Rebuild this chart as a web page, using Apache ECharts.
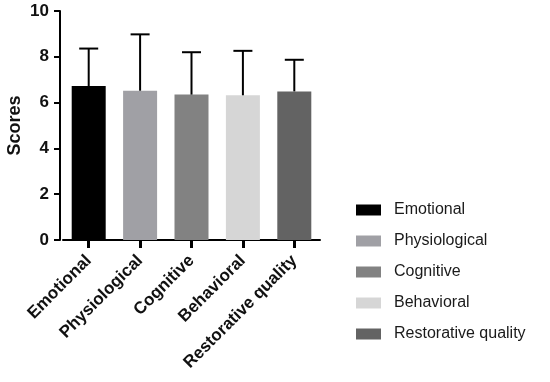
<!DOCTYPE html>
<html>
<head>
<meta charset="utf-8">
<script src="https://cdn.jsdelivr.net/npm/echarts@6/dist/echarts.min.js"></script>
<style>html,body{margin:0;padding:0;background:#fff}#c{width:550px;height:382px}</style>
</head>
<body>
<div id="c"></div>
<script>
const categories = ['Emotional', 'Physiological', 'Cognitive', 'Behavioral', 'Restorative quality'];
const means = [6.72, 6.52, 6.35, 6.32, 6.49];
const upperErrors = [8.36, 8.98, 8.2, 8.26, 7.87];
const colors = ['#000000', '#a0a0a5', '#828282', '#d6d6d6', '#636363'];
const yTicks = [0, 2, 4, 6, 8, 10];

const FONT = '"Liberation Sans", Arial, sans-serif';
const chart = echarts.init(document.getElementById('c'));

const barSeries = categories.map((name, i) => ({
  name: name,
  type: 'bar',
  barWidth: 34,
  barGap: '-100%',
  itemStyle: { color: colors[i] },
  data: categories.map((_, j) => (j === i ? means[i] : '-')),
  z: 2
}));

const errSeries = {
  type: 'custom',
  name: 'err',
  z: 3,
  data: categories.map((_, i) => [i, means[i], upperErrors[i]]),
  renderItem: function (params, api) {
    const lo = api.coord([api.value(0), api.value(1)]);
    const hi = api.coord([api.value(0), api.value(2)]);
    const half = 9.5;
    const style = { stroke: '#000', lineWidth: 2 };
    return {
      type: 'group',
      children: [
        { type: 'line', shape: { x1: lo[0], y1: lo[1], x2: hi[0], y2: hi[1] }, style: style },
        { type: 'line', shape: { x1: hi[0] - half, y1: hi[1], x2: hi[0] + half, y2: hi[1] }, style: style }
      ]
    };
  }
};

chart.setOption({
  animation: false,
  textStyle: { fontFamily: FONT },
  grid: { left: 63, right: 230, top: 11, bottom: 142, containLabel: false },
  legend: {
    orient: 'vertical',
    left: 356,
    top: 202,
    padding: 0,
    icon: 'rect',
    itemWidth: 25,
    itemHeight: 11,
    itemGap: 15,
    data: categories,
    textStyle: { fontFamily: FONT, fontSize: 16, color: '#1a1a1a', padding: [0, 0, 0, 8] }
  },
  xAxis: {
    type: 'category',
    data: categories,
    axisLine: { lineStyle: { color: '#000', width: 2 } },
    axisTick: { show: true, alignWithLabel: true, length: 8, lineStyle: { width: 3, color: '#000' } },
    axisLabel: { rotate: 45, fontFamily: FONT, fontWeight: 'bold', fontSize: 17, color: '#111', margin: 18, interval: 0 }
  },
  yAxis: {
    type: 'value',
    min: yTicks[0],
    max: yTicks[yTicks.length - 1],
    interval: 2,
    offset: 3,
    name: 'Scores',
    nameLocation: 'middle',
    nameGap: 36,
    nameRotate: 90,
    nameTextStyle: { fontFamily: FONT, fontWeight: 'bold', fontSize: 18, color: '#111' },
    splitLine: { show: false },
    axisLine: { show: true, lineStyle: { color: '#000', width: 2 } },
    axisTick: { show: true, length: 6, lineStyle: { color: '#000', width: 2 } },
    axisLabel: { fontFamily: FONT, fontWeight: 'bold', fontSize: 17, color: '#111', margin: 11 }
  },
  series: barSeries.concat([errSeries])
});
</script>
</body>
</html>
